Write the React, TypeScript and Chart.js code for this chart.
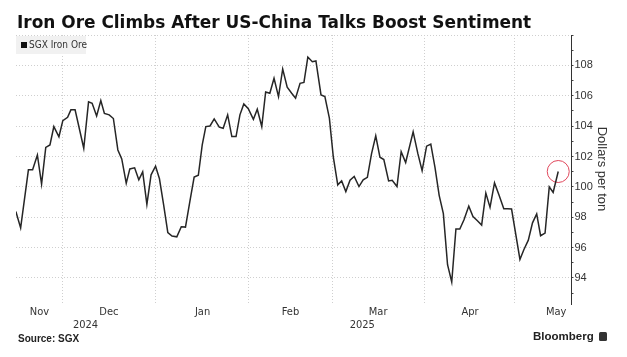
import React, { useEffect, useRef } from 'react';
import { Chart, registerables } from 'chart.js';

Chart.register(...registerables);

const TITLE = 'Iron Ore Climbs After US-China Talks Boost Sentiment';
const SERIES_LABEL = 'SGX Iron Ore';
const SOURCE = 'Source: SGX';
const BRAND = 'Bloomberg';
const Y_TITLE = 'Dollars per ton';

// Days since 1 Nov 2024
const dayOffsets = [
  14.3, 15.9, 18.5, 19.9, 21.5, 22.9, 24.3, 25.7, 27.0, 28.7,
  30.0, 31.6, 32.7, 34.1, 37.0, 38.6, 39.8, 41.3, 42.7, 43.9,
  45.5, 46.9, 48.4, 49.7, 51.2, 52.4, 54.0, 55.4, 56.7, 58.1,
  59.5, 61.0, 62.3, 63.7, 65.1, 66.5, 68.1, 69.6, 71.0, 72.5,
  73.9, 75.3, 76.6, 77.8, 79.2, 80.6, 82.3, 83.6, 85.1, 86.5,
  87.9, 89.2, 90.5, 92.0, 93.7, 95.0, 96.5, 97.8, 99.2, 100.6,
  102.1, 103.5, 105.0, 106.5, 107.8, 109.3, 110.6, 111.9, 113.4, 114.6,
  116.3, 117.6, 119.1, 120.4, 121.9, 123.2, 124.6, 126.0, 127.4, 129.0,
  130.4, 131.8, 133.2, 134.6, 136.0, 137.3, 138.9, 140.1, 141.7, 143.1,
  144.6, 147.1, 148.7, 150.1, 151.6, 153.0, 154.4, 155.8, 157.2, 158.6,
  160.0, 161.4, 162.7, 164.1, 165.7, 167.1, 168.5, 170.0, 171.4, 172.8,
  174.3, 175.8, 177.4, 178.7, 180.0, 182.8, 184.1, 185.6, 187.0, 188.4,
  189.7, 191.2, 192.6, 193.9, 195.6,
];

// SGX iron ore, USD per ton
const prices = [
  98.38, 97.3, 101.12, 101.12, 102.1, 100.18, 102.6, 102.76, 103.97, 103.3,
  104.36, 104.58, 105.07, 105.07, 102.54, 105.6, 105.5, 104.67, 105.68, 104.84,
  104.74, 104.5, 102.43, 101.84, 100.24, 101.18, 101.25, 100.46, 100.99, 98.84,
  100.79, 101.36, 100.53, 98.82, 96.99, 96.76, 96.71, 97.37, 97.35, 99.08,
  100.64, 100.76, 102.76, 103.97, 104.01, 104.47, 103.93, 103.86, 104.74, 103.31,
  103.31, 104.74, 105.46, 105.15, 104.45, 105.11, 103.97, 106.25, 106.16, 107.15,
  105.94, 107.76, 106.56, 106.16, 105.84, 106.82, 106.88, 108.55, 108.24, 108.29,
  106.05, 105.94, 104.52, 101.99, 100.13, 100.39, 99.69, 100.44, 100.68, 100.02,
  100.46, 100.63, 102.19, 103.36, 101.95, 101.8, 100.39, 100.43, 100.02, 102.32,
  101.6, 103.62, 102.17, 101.07, 102.68, 102.82, 101.28, 99.44, 98.24, 94.87,
  93.73, 97.22, 97.22, 97.83, 98.73, 98.05, 97.78, 97.48, 99.59, 98.65,
  100.26, 99.47, 98.55, 98.55, 98.54, 95.22, 95.86, 96.49, 97.63, 98.22,
  96.78, 96.95, 100.0, 99.63, 101.01,
];

// Month boundaries (1 Dec .. 1 May) in days since 1 Nov 2024
const monthStarts = [30, 61, 92, 120, 151, 181];
const monthLabels = ['Nov', 'Dec', 'Jan', 'Feb', 'Mar', 'Apr', 'May'];
const monthLabelDays = [22.2, 45.4, 76.7, 106.1, 135.4, 166.1, 194.9];
const yearLabels = ['2024', '2025'];
const yearLabelDays = [37.6, 130.1];
const yLabelTicks = [94, 96, 98, 100, 102, 104, 106, 108];
const yMinorTicks = [93, 94, 95, 96, 97, 98, 99, 100, 101, 102, 103, 104, 105, 106, 107, 108, 109, 110];

const X_MIN = 14.35;
const X_MAX = 199.7;
const Y_MIN = 92.35;
const Y_MAX = 110;

const NARROW = "'Liberation Sans Narrow', 'Arial Narrow', 'DejaVu Sans Condensed', 'Liberation Sans', sans-serif";
const SANS = "'Liberation Sans', Arial, sans-serif";
const TITLE_FONT = "'DejaVu Sans', 'Liberation Sans', sans-serif";
const GRID = '#cfcfcf';

const decor = {
  id: 'decor',
  beforeDraw(chart: any) {
    const { ctx } = chart;
    ctx.save();
    ctx.fillStyle = '#ffffff';
    ctx.fillRect(0, 0, chart.width, chart.height);
    ctx.restore();
  },
  afterDraw(chart: any) {
    const { ctx, chartArea } = chart;
    ctx.save();
    // title, sized to span the same width as the original headline
    ctx.fillStyle = '#111';
    ctx.textAlign = 'left';
    ctx.textBaseline = 'alphabetic';
    ctx.font = `bold 18px ${TITLE_FONT}`;
    const w = ctx.measureText(TITLE).width;
    const size = Math.min(20, (18 * 515) / w);
    ctx.font = `bold ${size.toFixed(2)}px ${TITLE_FONT}`;
    ctx.fillText(TITLE, 17, 28);
    // right axis line
    const ax = Math.round(chartArea.right) + 0.5;
    ctx.strokeStyle = '#333';
    ctx.lineWidth = 1;
    ctx.beginPath();
    ctx.moveTo(ax, chartArea.top);
    ctx.lineTo(ax, chartArea.bottom + 2);
    ctx.stroke();
    // legend
    ctx.fillStyle = '#f1f1f1';
    ctx.fillRect(16, 36, 70, 18);
    ctx.fillStyle = '#111';
    ctx.fillRect(21, 42, 6, 6);
    ctx.fillStyle = '#333';
    ctx.font = `10px ${NARROW}`;
    ctx.textBaseline = 'middle';
    ctx.fillText(chart.data.datasets[0].label, 29, 45.5);
    // source
    ctx.fillStyle = '#222';
    ctx.font = `bold 10px ${SANS}`;
    ctx.fillText(SOURCE, 18, 339);
    // brand
    ctx.font = `bold 11.5px ${SANS}`;
    ctx.fillText(BRAND, 533, 337);
    ctx.fillStyle = '#333';
    ctx.beginPath();
    ctx.roundRect(599, 332, 8, 9, 1.5);
    ctx.fill();
    ctx.restore();
  },
};

export default function App() {
  const ref = useRef<HTMLCanvasElement>(null);
  useEffect(() => {
    const canvas = ref.current;
    if (!canvas) return;
    const points = dayOffsets.map((d, i) => ({ x: d, y: prices[i] }));
    const last = points[points.length - 1];
    const chart = new Chart(canvas, {
      type: 'line',
      data: {
        datasets: [
          {
            label: SERIES_LABEL,
            data: points,
            borderColor: '#262626',
            borderWidth: 1.5,
            pointRadius: 0,
            tension: 0,
            fill: false,
            xAxisID: 'x',
            yAxisID: 'y',
          },
          {
            label: 'highlight',
            data: [last],
            showLine: false,
            pointRadius: 11,
            pointHoverRadius: 11,
            pointBorderWidth: 1,
            pointBorderColor: '#e0485c',
            pointBackgroundColor: 'rgba(0,0,0,0)',
            xAxisID: 'x',
            yAxisID: 'y',
          },
        ],
      },
      options: {
        responsive: false,
        animation: false,
        devicePixelRatio: 1,
        layout: { padding: { left: 16, top: 35, right: 0, bottom: 0 } },
        plugins: {
          legend: { display: false },
          title: { display: false },
          tooltip: { enabled: false },
        },
        scales: {
          x: {
            type: 'linear',
            position: 'bottom',
            min: X_MIN,
            max: X_MAX,
            afterBuildTicks: (s: any) => {
              s.ticks = monthStarts.map((v) => ({ value: v }));
            },
            afterFit: (s: any) => {
              s.height = 0;
            },
            ticks: { display: false },
            grid: { color: GRID, lineWidth: 1, drawTicks: false },
            border: { display: false, dash: [1, 2] },
          },
          xl: {
            type: 'linear',
            position: 'bottom',
            min: X_MIN,
            max: X_MAX,
            afterBuildTicks: (s: any) => {
              s.ticks = [...monthLabelDays, ...yearLabelDays].map((v) => ({ value: v }));
            },
            afterFit: (s: any) => {
              s.height = 54;
            },
            grid: { display: false, drawTicks: false },
            border: { display: false },
            ticks: {
              autoSkip: false,
              maxRotation: 0,
              padding: 2.4,
              color: '#333',
              font: { size: 11, family: NARROW, lineHeight: 1.2 },
              callback: (v: any) => {
                const mi = monthLabelDays.indexOf(v);
                if (mi >= 0) return monthLabels[mi];
                const yi = yearLabelDays.indexOf(v);
                if (yi >= 0) return ['', yearLabels[yi]];
                return '';
              },
            },
          },
          y: {
            type: 'linear',
            position: 'right',
            min: Y_MIN,
            max: Y_MAX,
            afterBuildTicks: (s: any) => {
              s.ticks = yMinorTicks.map((v) => ({ value: v }));
            },
            afterFit: (s: any) => {
              s.width = 56.5;
            },
            grid: {
              color: (c: any) =>
                c.tick && (yLabelTicks.includes(c.tick.value) || c.tick.value === Y_MAX) ? GRID : 'rgba(0,0,0,0)',
              lineWidth: 1,
              drawTicks: true,
              tickLength: 3,
              tickColor: '#444',
              tickWidth: 1,
            },
            border: { display: false, dash: [1, 2] },
            ticks: {
              autoSkip: false,
              padding: 1,
              color: '#333',
              font: { size: 11, family: SANS },
              callback: (v: any) => (yLabelTicks.includes(v) ? String(v) : ''),
            },
            title: {
              display: true,
              text: Y_TITLE,
              color: '#333',
              font: { size: 13, family: SANS },
              padding: { top: 18, bottom: 0 },
            },
          },
        },
      },
      plugins: [decor],
    } as any);
    return () => chart.destroy();
  }, []);

  return (
    <div style={{ position: 'fixed', left: 0, top: 0, width: 627, height: 357, background: '#fff' }}>
      <canvas ref={ref} width={627} height={357} style={{ display: 'block', width: 627, height: 357 }} />
    </div>
  );
}
